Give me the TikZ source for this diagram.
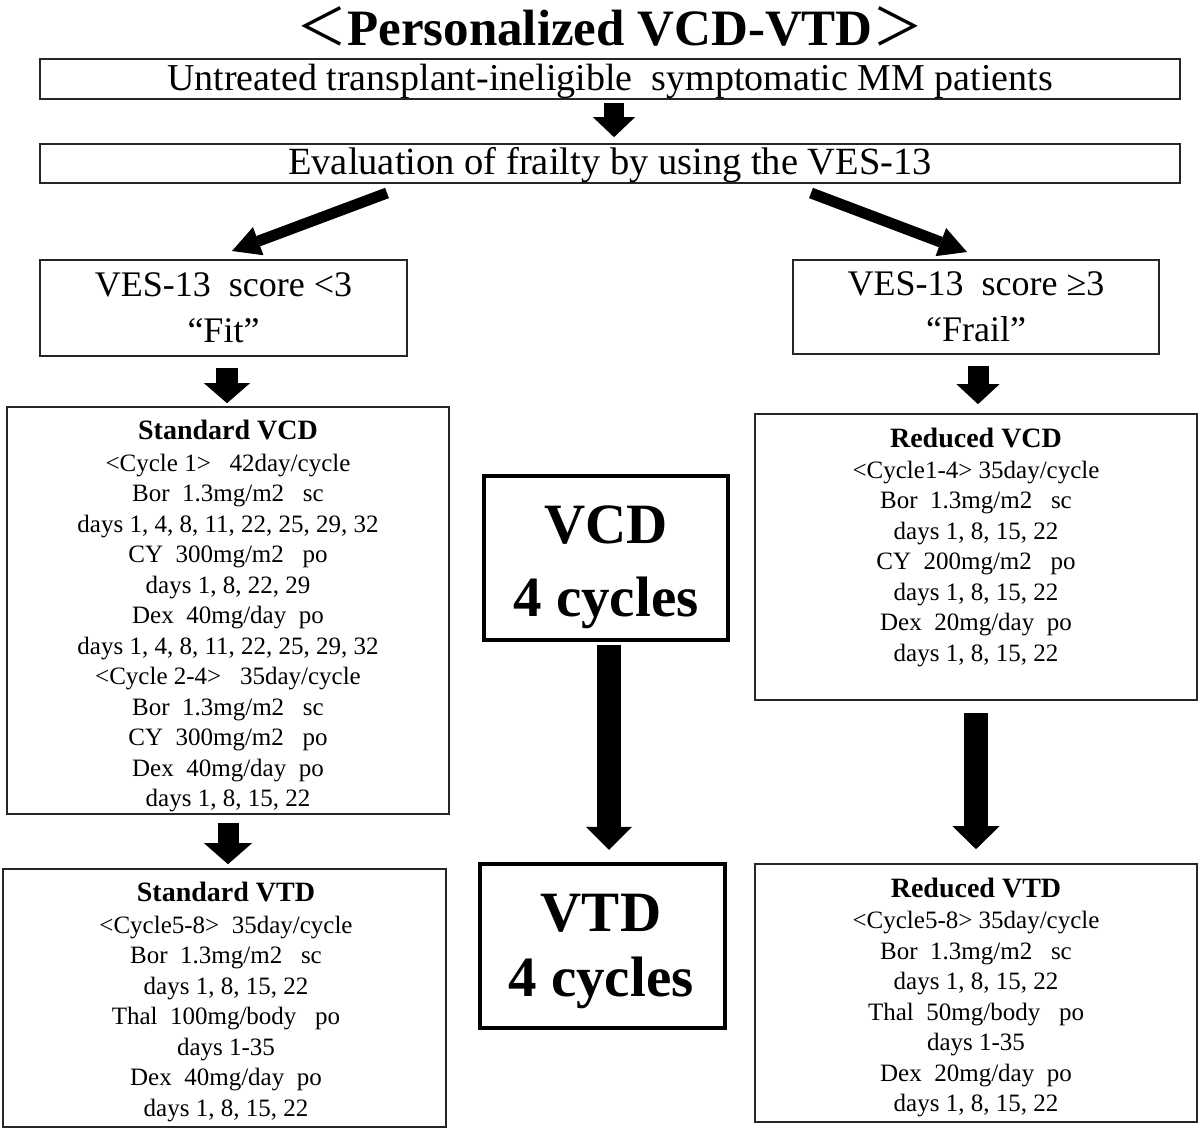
\documentclass[tikz,border=0pt]{standalone}
\usepackage{fontspec}
\setmainfont{Liberation Serif}
\newfontfamily\cjkfont{Noto Sans CJK JP}
\usetikzlibrary{arrows.meta}
\begin{document}
\begin{tikzpicture}[x=1pt,y=-1pt,
  box/.style={draw=black!85, line width=1.6pt, rectangle, inner sep=0pt},
  bigbox/.style={draw=black, line width=4.5pt, rectangle, inner sep=0pt},
  dtext/.style={inner sep=0pt, align=center, font=\fontsize{25}{30.5}\selectfont},
  btext/.style={inner sep=0pt, align=center},
  barrow/.style n args={3}{draw=black, line width=#1, -{Triangle[length=#2, width=#3, line width=0pt]}}]
\useasboundingbox (0,0) rectangle (1200,1129);
% title
\node[anchor=base, inner sep=0pt] (title) at (610,46)
  {\fontsize{51}{51}\selectfont\bfseries{\cjkfont\mdseries ＜}Personalized VCD-VTD{\cjkfont\mdseries ＞}};
% top boxes
\node[box, minimum width=1140pt, minimum height=40pt, text height=28pt, text depth=5pt, font=\fontsize{38}{38}\selectfont] (box1) at (610,79)
  {Untreated transplant-ineligible~ symptomatic MM patients};
\node[box, minimum width=1140pt, minimum height=39pt, text height=28pt, text depth=5pt, font=\fontsize{38.5}{38}\selectfont] (box2) at (610,163.5)
  {Evaluation of frailty by using the VES-13};
% fit / frail
\node[box, minimum width=367pt, minimum height=96pt, align=center, font=\fontsize{36}{46}\selectfont] (fit) at (223.5,308)
  {VES-13~~score <3\\“Fit”};
\node[box, minimum width=366pt, minimum height=94pt, align=center, font=\fontsize{36}{46}\selectfont] (frail) at (976,307)
  {VES-13~~score ≥3\\“Frail”};
% regimen boxes
\node[box, minimum width=442pt, minimum height=407pt] (stdvcd) at (228,610.5) {};
\node[dtext] (stdvcdt) at (228,616.2)
  {{\bfseries\fontsize{28}{30.5}\selectfont Standard VCD}\\[1.5pt]
   <Cycle~1>~~~42day/cycle\\
   Bor~~1.3mg/m2~~~sc\\
   days 1, 4, 8, 11, 22, 25, 29, 32\\
   CY~~300mg/m2~~~po\\
   days 1, 8, 22, 29\\
   Dex~~40mg/day~~po\\
   days 1, 4, 8, 11, 22, 25, 29, 32\\
   <Cycle~2-4>~~~35day/cycle\\
   Bor~~1.3mg/m2~~~sc\\
   CY~~300mg/m2~~~po\\
   Dex~~40mg/day~~po\\
   days 1, 8, 15, 22};
\node[box, minimum width=442pt, minimum height=286pt] (redvcd) at (976,557) {};
\node[dtext] (redvcdt) at (976,547.2)
  {{\bfseries\fontsize{28}{30.5}\selectfont Reduced VCD}\\[0.5pt]
   <Cycle1-4> 35day/cycle\\
   Bor~~1.3mg/m2~~~sc\\
   days 1, 8, 15, 22\\
   CY~~200mg/m2~~~po\\
   days 1, 8, 15, 22\\
   Dex~~20mg/day~~po\\
   days 1, 8, 15, 22};
\node[box, minimum width=443pt, minimum height=258pt] (stdvtd) at (224.5,998) {};
\node[dtext] (stdvtdt) at (226,1001.7)
  {{\bfseries\fontsize{28}{30.5}\selectfont Standard VTD}\\[1.5pt]
   <Cycle5-8>~~35day/cycle\\
   Bor~~1.3mg/m2~~~sc\\
   days 1, 8, 15, 22\\
   Thal~~100mg/body~~~po\\
   days 1-35\\
   Dex~~40mg/day~~po\\
   days 1, 8, 15, 22};
\node[box, minimum width=442pt, minimum height=258pt] (redvtd) at (976,993) {};
\node[dtext] (redvtdt) at (976,997.7)
  {{\bfseries\fontsize{28}{30.5}\selectfont Reduced VTD}\\[0.5pt]
   <Cycle5-8> 35day/cycle\\
   Bor~~1.3mg/m2~~~sc\\
   days 1, 8, 15, 22\\
   Thal~~50mg/body~~~po\\
   days 1-35\\
   Dex~~20mg/day~~po\\
   days 1, 8, 15, 22};
% central boxes
\node[bigbox, minimum width=244pt, minimum height=164pt] (vcd) at (606,558) {};
\node[btext, font=\bfseries\fontsize{57}{73}\selectfont] (vcdt) at (606,566.9) {VCD\\4 cycles};
\node[bigbox, minimum width=245pt, minimum height=164pt] (vtd) at (602.5,946) {};
\node[btext, font=\bfseries\fontsize{57}{65}\selectfont] (vtdt) at (601,951.9) {VTD\\4 cycles};
% x positions of vertical arrows
\coordinate (xa1) at (614,0);
\coordinate (xfl) at (227,0);
\coordinate (xfr) at (978,0);
\coordinate (xc) at (609,0);
\coordinate (xl2) at (228,0);
\coordinate (xr2) at (976,0);
% diagonal arrow ends
\coordinate (dl0) at (387,193);
\coordinate (dl1) at (232,251);
\coordinate (dr0) at (811,193);
\coordinate (dr1) at (967,252);
% arrows
\draw[barrow={20pt}{20pt}{42pt}, shorten <=3pt, shorten >=6pt] (box1.south -| xa1) -- (box2.north -| xa1);
\draw[barrow={11pt}{28pt}{30pt}] (dl0) -- (dl1);
\draw[barrow={11pt}{28pt}{30pt}] (dr0) -- (dr1);
\draw[barrow={22pt}{20pt}{46pt}, shorten <=11pt, shorten >=3pt] (fit.south -| xfl) -- (stdvcd.north -| xfl);
\draw[barrow={21pt}{20pt}{43pt}, shorten <=11pt, shorten >=9pt] (frail.south -| xfr) -- (redvcd.north -| xfr);
\draw[barrow={21pt}{21pt}{48pt}, shorten <=8pt, shorten >=4pt] (stdvcd.south -| xl2) -- (stdvtd.north -| xl2);
\draw[barrow={24pt}{23pt}{46pt}, shorten <=3pt, shorten >=12pt] (vcd.south -| xc) -- (vtd.north -| xc);
\draw[barrow={24pt}{23pt}{47pt}, shorten <=12pt, shorten >=14pt] (redvcd.south -| xr2) -- (redvtd.north -| xr2);
\end{tikzpicture}
\end{document}
